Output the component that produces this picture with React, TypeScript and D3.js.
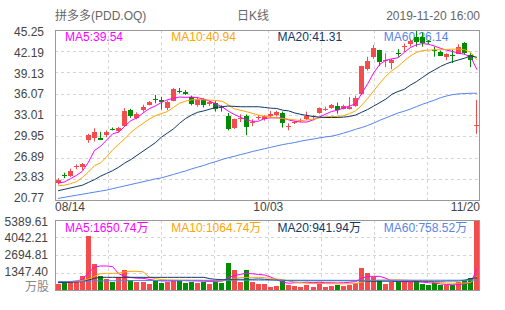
import React, { useEffect, useRef } from "react";
import * as d3 from "d3";

// trading days shown on the chart
const dates = [
  "08/14", "08/15", "08/16", "08/19", "08/20", "08/21", "08/22", "08/23", "08/26", "08/27",
  "08/28", "08/29", "08/30", "09/03", "09/04", "09/05", "09/06", "09/09", "09/10", "09/11",
  "09/12", "09/13", "09/16", "09/17", "09/18", "09/19", "09/20", "09/23", "09/24", "09/25",
  "09/26", "09/27", "09/30", "10/01", "10/02", "10/03", "10/04", "10/07", "10/08", "10/09",
  "10/10", "10/11", "10/14", "10/15", "10/16", "10/17", "10/18", "10/21", "10/22", "10/23",
  "10/24", "10/25", "10/28", "10/29", "10/30", "10/31", "11/01", "11/04", "11/05", "11/06",
  "11/07", "11/08", "11/11", "11/12", "11/13", "11/14", "11/15", "11/18", "11/19", "11/20",
];

const open = [
  23.3, 24.35, 24.25, 25.5, 25.5, 29.4, 29.8, 29.75, 30.0, 31.0,
  30.7, 31.5, 33.8, 32.6, 33.8, 34.5, 35.35, 35.1, 34.1, 35.1,
  36.5, 36.3, 35.6, 34.4, 35.3, 34.6, 34.8, 34.1, 32.9, 31.1,
  32.5, 32.9, 31.9, 32.6, 32.4, 32.9, 33.0, 33.3, 31.3, 31.8,
  32.2, 32.4, 32.7, 33.3, 33.8, 34.0, 34.3, 33.9, 33.9, 34.3,
  36.0, 39.6, 41.3, 42.3, 40.8, 40.45, 42.0, 42.8, 43.2, 44.2,
  44.3, 43.6, 42.3, 42.1, 41.3, 41.65, 41.9, 43.4, 41.7, 31.4,
];
const close = [
  23.7, 24.2, 25.0, 25.6, 25.9, 30.1, 30.6, 29.5, 30.5, 30.95,
  31.1, 33.6, 32.9, 33.2, 34.2, 34.9, 35.2, 34.8, 34.9, 36.8,
  36.4, 36.0, 34.6, 35.3, 34.5, 34.9, 34.0, 34.0, 31.0, 32.4,
  32.6, 31.3, 32.0, 32.7, 32.8, 33.2, 33.4, 31.9, 31.4, 32.0,
  32.3, 32.9, 32.8, 34.0, 33.9, 34.4, 33.7, 34.3, 34.2, 35.5,
  40.0, 40.8, 42.6, 40.6, 41.0, 40.95, 41.9, 42.95, 43.6, 43.55,
  43.4, 43.5, 42.2, 41.55, 41.8, 41.45, 42.85, 41.9, 41.0, 31.5,
];
const high = [
  23.9, 24.7, 25.3, 25.9, 26.1, 30.3, 31.1, 30.6, 30.8, 31.2,
  31.3, 34.0, 33.9, 33.4, 34.5, 35.0, 35.9, 35.6, 35.1, 36.9,
  36.9, 36.6, 35.8, 35.6, 35.4, 35.1, 35.0, 34.4, 33.3, 32.5,
  33.1, 33.1, 32.4, 33.0, 33.0, 33.6, 33.6, 33.5, 31.8, 32.2,
  32.5, 33.5, 33.0, 34.1, 34.2, 34.6, 34.8, 34.5, 35.6, 35.8,
  40.1, 41.4, 43.1, 42.4, 41.9, 41.1, 42.5, 43.3, 43.9, 45.2,
  44.9, 43.8, 42.85, 42.3, 41.9, 42.4, 43.2, 43.5, 41.9, 35.2,
];
const low = [
  23.0, 23.9, 24.1, 25.2, 25.1, 29.0, 29.2, 29.4, 29.8, 30.8,
  30.5, 31.3, 32.6, 32.4, 33.5, 34.4, 34.7, 33.8, 33.7, 35.0,
  36.1, 35.9, 34.4, 34.2, 34.1, 34.3, 33.5, 33.5, 30.8, 31.0,
  32.0, 30.1, 31.4, 32.3, 32.2, 32.6, 32.8, 31.2, 30.8, 31.7,
  32.0, 32.3, 32.4, 33.2, 33.6, 33.9, 33.2, 33.8, 33.8, 34.2,
  35.9, 39.4, 41.1, 40.1, 39.9, 39.6, 41.4, 42.1, 42.85, 42.85,
  42.85, 43.2, 41.4, 41.5, 40.9, 40.5, 41.8, 41.7, 39.9, 30.3,
];

// price moving averages
const ma5 = [
  23.2, 23.35, 23.8, 24.3, 24.9, 26.2, 27.9, 28.5, 29.4, 30.3,
  30.55, 31.4, 32.2, 32.6, 33.3, 33.9, 34.3, 34.8, 35.2, 35.4,
  35.6, 35.55, 35.6, 35.5, 35.3, 35.0, 34.6, 34.2, 33.6, 33.1,
  32.7, 32.3, 32.1, 32.1, 32.5, 32.6, 32.6, 32.6, 32.3, 32.1,
  32.0, 32.0, 32.3, 32.7, 33.1, 33.5, 33.7, 34.0, 34.3, 34.6,
  36.1, 37.5, 39.1, 40.3, 40.9, 41.1, 41.25, 42.0, 42.7, 43.1,
  43.3, 43.2, 42.95, 42.6, 42.35, 42.15, 41.9, 41.75, 41.3, 39.54,
];
const ma10 = [
  22.8, 22.9, 23.1, 23.4, 24.0, 24.8, 25.7, 26.1, 27.0, 28.0,
  28.8, 29.6, 30.5, 31.2, 31.8, 32.4, 32.9, 33.2, 33.5, 34.1,
  34.7, 35.0, 35.2, 35.25, 35.2, 35.15, 35.1, 35.0, 34.5, 33.9,
  33.7, 33.5, 33.25, 33.0, 32.85, 32.7, 32.6, 32.5, 32.4, 32.3,
  32.2, 32.3, 32.4, 32.6, 32.75, 32.8, 32.8, 32.9, 33.2, 33.6,
  34.4, 35.4, 36.5, 37.6, 38.6, 39.4, 40.0, 40.8, 41.5, 42.0,
  42.3, 42.35, 42.4, 42.4, 42.45, 42.5, 42.5, 42.4, 42.0, 40.94,
];
const ma20 = [
  22.1, 22.3, 22.5, 22.7, 22.9, 23.3, 23.7, 24.2, 24.6, 25.0,
  25.5, 26.1, 26.6, 27.2, 27.8, 28.4, 29.0, 29.8, 30.4, 31.0,
  31.8, 32.5, 33.0, 33.4, 33.6, 33.85, 34.1, 34.2, 34.3, 34.25,
  34.2, 34.2, 34.2, 34.2, 34.1, 34.0, 33.95, 33.7, 33.6, 33.3,
  33.1, 32.95, 32.8, 32.7, 32.65, 32.65, 32.65, 32.7, 32.8, 33.0,
  33.4, 33.8, 34.3, 34.8, 35.3, 36.0, 36.4, 36.7, 37.3, 37.8,
  38.4, 39.0, 39.5, 40.0, 40.4, 40.7, 40.95, 41.2, 41.55, 41.31,
];
const ma60 = [
  21.0, 21.15, 21.3, 21.45, 21.6, 21.75, 21.9, 22.05, 22.2, 22.4,
  22.6, 22.8, 23.0, 23.2, 23.4, 23.6, 23.8, 23.95, 24.2, 24.45,
  24.7, 24.95, 25.25, 25.5, 25.75, 26.05, 26.3, 26.6, 26.85, 27.05,
  27.3, 27.5, 27.75, 27.95, 28.15, 28.35, 28.55, 28.75, 28.9, 29.05,
  29.25, 29.4, 29.55, 29.7, 29.85, 29.95, 30.15, 30.4, 30.65, 30.95,
  31.2, 31.5, 31.85, 32.25, 32.6, 32.95, 33.3, 33.55, 33.85, 34.2,
  34.55, 34.85, 35.15, 35.5, 35.75, 35.95, 36.05, 36.1, 36.14, 36.14,
];

// volume, 万股
const volume = [
  462, 513, 640, 640, 1078, 4158, 2002, 1078, 872, 616,
  975, 1540, 770, 640, 640, 462, 770, 565, 590, 770,
  718, 513, 640, 565, 640, 487, 718, 565, 2104, 1540,
  640, 1540, 590, 437, 462, 257, 308, 718, 385, 308,
  257, 385, 205, 513, 257, 308, 385, 334, 385, 513,
  1668, 1283, 975, 718, 462, 616, 616, 640, 640, 718,
  462, 385, 590, 385, 385, 385, 590, 770, 900, 5389.61,
];
const vma5 = [
  565, 590, 640, 700, 800, 1335, 1750, 1848, 1848, 1800,
  1250, 1050, 960, 910, 900, 820, 740, 700, 690, 700,
  720, 718, 700, 690, 680, 660, 641, 680, 950, 1100,
  1200, 1283, 1250, 1200, 1155, 1000, 800, 600, 520, 560,
  560, 600, 560, 600, 560, 560, 540, 560, 600, 640,
  900, 1050, 1050, 1050, 900, 700, 640, 640, 620, 640,
  600, 560, 520, 470, 420, 400, 420, 480, 560, 1650.74,
];
const vma10 = [
  641, 641, 660, 680, 718, 850, 1050, 1250, 1283, 1283,
  1300, 1400, 1440, 1440, 1400, 1000, 880, 800, 780, 770,
  760, 760, 750, 750, 740, 720, 700, 690, 800, 880,
  950, 975, 975, 975, 950, 900, 850, 800, 700, 600,
  560, 520, 500, 500, 500, 480, 470, 470, 480, 500,
  600, 700, 720, 740, 760, 780, 780, 760, 740, 720,
  700, 650, 600, 560, 540, 520, 520, 540, 580, 1064.74,
];
const vma20 = [
  565, 580, 600, 620, 641, 760, 900, 975, 975, 975,
  975, 975, 975, 975, 975, 975, 975, 975, 975, 975,
  975, 975, 975, 975, 975, 870, 820, 800, 790, 821,
  821, 821, 821, 850, 820, 790, 760, 740, 718, 718,
  718, 718, 718, 718, 718, 718, 718, 718, 718, 718,
  718, 680, 680, 680, 680, 680, 680, 680, 680, 680,
  680, 680, 680, 680, 700, 700, 700, 760, 880, 941.94,
];
const vma60 = [
  650, 650, 655, 655, 660, 680, 700, 705, 710, 712,
  715, 720, 722, 724, 726, 728, 730, 732, 734, 736,
  738, 740, 740, 742, 742, 744, 744, 746, 750, 755,
  756, 760, 760, 760, 758, 756, 755, 755, 754, 752,
  752, 750, 750, 748, 748, 746, 746, 745, 745, 745,
  750, 752, 754, 755, 756, 756, 756, 757, 757, 757,
  756, 756, 755, 755, 755, 755, 755, 756, 757, 758.52,
];

const priceTicks = [45.25, 42.19, 39.13, 36.07, 33.01, 29.95, 26.89, 23.83, 20.77];
const volTicks = [5389.61, 4042.21, 2694.81, 1347.4];
const xLabels = ["08/14", "10/03", "11/20"];
const maLegend = ["MA5:39.54", "MA10:40.94", "MA20:41.31", "MA60:36.14"];
const volLegend = ["MA5:1650.74万", "MA10:1064.74万", "MA20:941.94万", "MA60:758.52万"];
const header = ["拼多多(PDD.OQ)", "日K线", "2019-11-20 16:00"];

const maColors = ["#ff00ff", "#ffa500", "#0f3866", "#5585e8"];
const up = "#f44c4c";
const down = "#008c00";
const font = "Arial, 'Liberation Sans', 'Noto Sans CJK SC', sans-serif";

function draw(node: SVGSVGElement) {
  let svg = d3.select(node);
  svg.selectAll("*").remove();

  let left = 55, right = 480;
  let pTop = 30, pBottom = 200, vTop = 220, vBottom = 290;

  let x = d3.scaleBand().domain(dates).range([left, right]).paddingInner(0.25).paddingOuter(0.125);
  let cx = (i: number) => (x(dates[i]) as number) + x.bandwidth() / 2;
  let y = d3.scaleLinear().domain([priceTicks[8], priceTicks[0]]).range([pBottom, pTop]);
  let yv = d3.scaleLinear().domain([0, volTicks[0]]).range([vBottom, vTop]);
  // labels sit a little off the grid lines in the original
  let yLab = d3.scaleLinear().domain([priceTicks[8], priceTicks[0]]).range([202, 36]);
  let yvLab = d3.scaleLinear().domain([0, volTicks[0]]).range([292, 226]);

  let g = svg.append("g").attr("font-family", font).attr("font-size", 12);

  // header
  g.append("text").attr("x", left).attr("y", 20).attr("fill", "#666").text(header[0]);
  g.append("text").attr("x", 253).attr("y", 20).attr("fill", "#666").attr("text-anchor", "middle").text(header[1]);
  g.append("text").attr("x", right).attr("y", 20).attr("fill", "#666").attr("text-anchor", "end").text(header[2]);

  // grid
  let vx = d3.range(1, 8).map(k => Math.round(left + (k * (right - left)) / 8) + 0.5);
  let grid = g.append("g").attr("stroke", "#d4d4d4").attr("stroke-dasharray", "3,3");
  priceTicks.slice(1, -1).forEach(t => {
    let yy = Math.round(y(t)) + 0.5;
    grid.append("line").attr("x1", left).attr("x2", right).attr("y1", yy).attr("y2", yy);
  });
  volTicks.slice(1).forEach(t => {
    let yy = Math.round(yv(t)) + 0.5;
    grid.append("line").attr("x1", left).attr("x2", right).attr("y1", yy).attr("y2", yy);
  });
  vx.forEach(xx => {
    grid.append("line").attr("x1", xx).attr("x2", xx).attr("y1", pTop).attr("y2", pBottom);
    grid.append("line").attr("x1", xx).attr("x2", xx).attr("y1", vTop).attr("y2", vBottom);
  });

  // y labels
  priceTicks.forEach(t => {
    g.append("text").attr("x", 44).attr("y", yLab(t)).attr("text-anchor", "end").attr("fill", "#444").text(t.toFixed(2));
  });
  volTicks.forEach(t => {
    g.append("text").attr("x", 48).attr("y", yvLab(t)).attr("text-anchor", "end").attr("fill", "#444").text(t.toFixed(2));
  });
  g.append("text").attr("x", 49).attr("y", 291).attr("text-anchor", "end").attr("fill", "#888").text("万股");

  // x labels
  xLabels.forEach((d, k) => {
    let t = g.append("text").attr("y", 211).attr("fill", "#444").text(d);
    if (k === 0) t.attr("x", left);
    else if (k === xLabels.length - 1) t.attr("x", right).attr("text-anchor", "end");
    else t.attr("x", x(d) as number).attr("text-anchor", "middle");
  });

  // legends (under the marks)
  maLegend.forEach((s, k) => {
    g.append("text").attr("x", left + 10 + k * 106.25).attr("y", 41).attr("fill", maColors[k]).text(s);
  });
  volLegend.forEach((s, k) => {
    g.append("text").attr("x", left + 10 + k * 106.25).attr("y", 232).attr("fill", maColors[k]).text(s);
  });

  // candles
  let bw = Math.round(x.bandwidth());
  let candles = g.append("g");
  dates.forEach((d, i) => {
    let color = close[i] >= open[i] ? up : down;
    let bx = Math.round(cx(i) - bw / 2);
    let top = y(Math.max(open[i], close[i]));
    let h = Math.max(1, y(Math.min(open[i], close[i])) - top);
    candles.append("line")
      .attr("x1", bx + bw / 2).attr("x2", bx + bw / 2)
      .attr("y1", y(high[i])).attr("y2", y(low[i]))
      .attr("stroke", color);
    candles.append("rect")
      .attr("x", bx).attr("y", Math.round(top))
      .attr("width", bw).attr("height", Math.max(1, Math.round(h)))
      .attr("fill", color);
  });

  // volume bars
  dates.forEach((d, i) => {
    let color = close[i] >= open[i] ? up : down;
    let bx = Math.round(cx(i) - 2.5);
    let top = Math.round(yv(volume[i]));
    g.append("rect")
      .attr("x", bx).attr("y", top)
      .attr("width", 5).attr("height", vBottom - top)
      .attr("fill", color);
  });

  // moving average lines
  let line = d3.line<number>().x((_, i) => cx(i));
  [ma5, ma10, ma20, ma60].forEach((arr, k) => {
    g.append("path").attr("d", line.y(v => y(v))(arr)).attr("fill", "none").attr("stroke", maColors[k]).attr("stroke-width", 1);
  });
  [vma5, vma10, vma20, vma60].forEach((arr, k) => {
    g.append("path").attr("d", line.y(v => yv(v))(arr)).attr("fill", "none").attr("stroke", maColors[k]).attr("stroke-width", 1);
  });

  // frames
  g.append("rect").attr("x", left + 0.5).attr("y", pTop + 0.5).attr("width", right - left - 1).attr("height", pBottom - pTop)
    .attr("fill", "none").attr("stroke", "#999");
  g.append("rect").attr("x", left + 0.5).attr("y", vTop + 0.5).attr("width", right - left - 1).attr("height", vBottom - vTop)
    .attr("fill", "none").attr("stroke", "#999");
}

export default function App() {
  const ref = useRef<SVGSVGElement>(null);

  useEffect(() => {
    if (ref.current) draw(ref.current);
  }, []);

  return (
    <svg
      ref={ref}
      width={505}
      height={310}
      style={{ position: "absolute", left: 0, top: 0, background: "#fff" }}
    />
  );
}
